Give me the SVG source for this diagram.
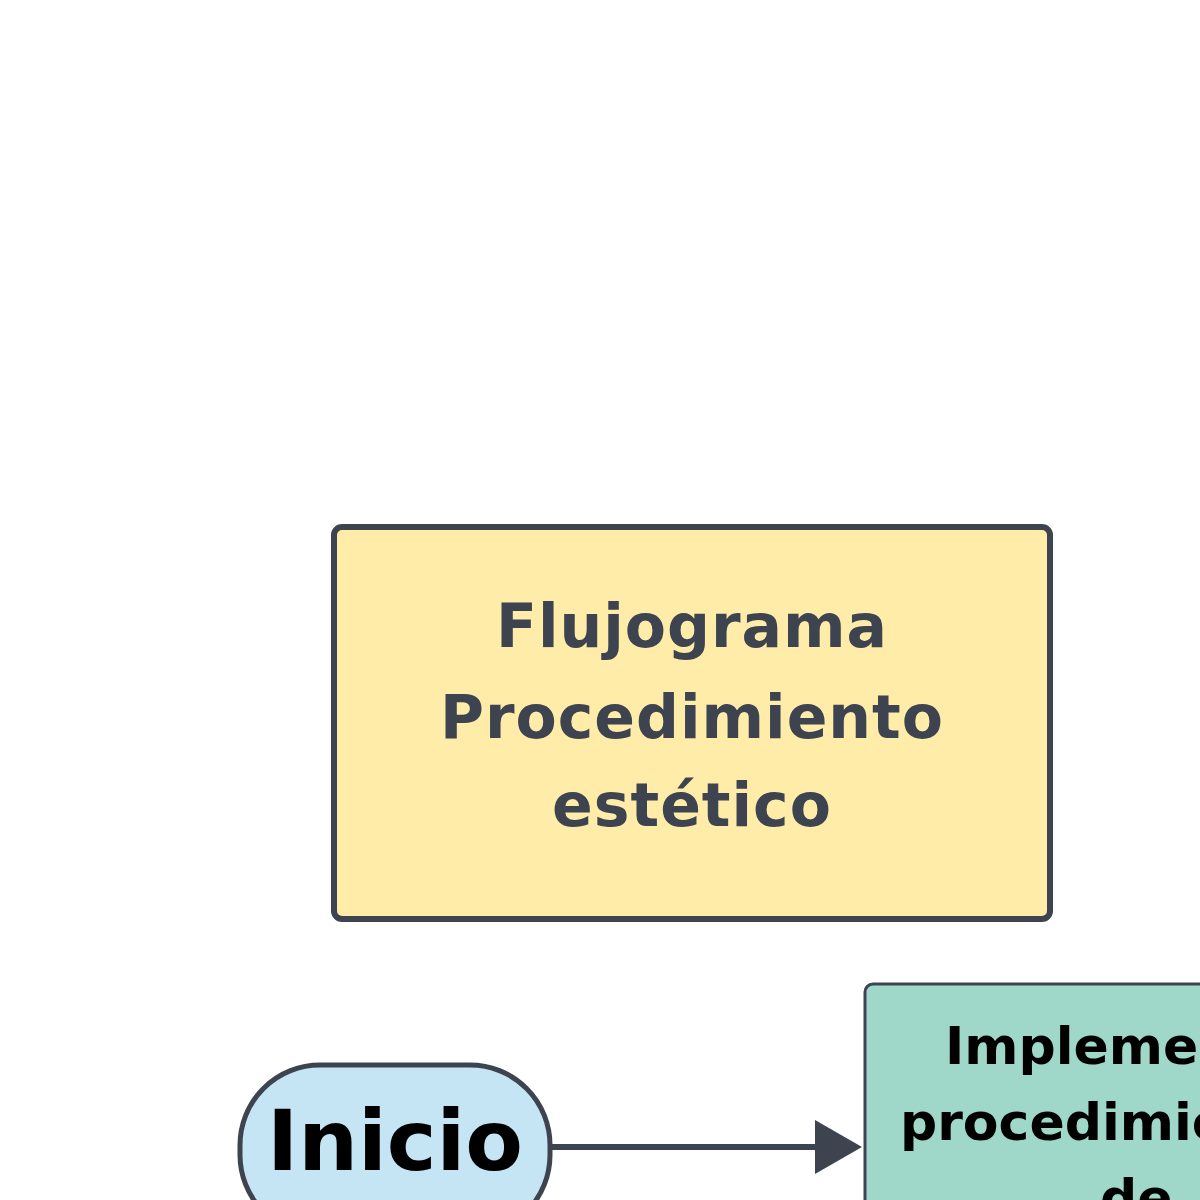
<svg xmlns="http://www.w3.org/2000/svg" width="1200" height="1200" viewBox="0 0 1200 1200">
<style>
.t{font-family:"DejaVu Sans","Liberation Sans",Arial,sans-serif;font-weight:bold;text-anchor:middle}
.s{font-family:"DejaVu Sans","Liberation Sans",Arial,sans-serif;font-weight:bold}
</style>
<rect width="1200" height="1200" fill="#ffffff"/>
<g id="title">
<rect x="334" y="527" width="716" height="392" rx="8" fill="#ffeca8" stroke="#3d4450" stroke-width="6"/>
<text class="t" x="692" y="647" font-size="60" fill="#3d4450" letter-spacing="1">Flujograma</text>
<text class="t" x="692" y="738" font-size="60" fill="#3d4450" letter-spacing="1">Procedimiento</text>
<text class="t" x="692" y="826" font-size="60" fill="#3d4450" letter-spacing="1">estético</text>
</g>
<g id="connectors">
<line x1="552" y1="1147" x2="815" y2="1147" stroke="#3d4450" stroke-width="6"/>
<path d="M815,1120 L862,1147 L815,1174 Z" fill="#3d4450"/>
</g>
<g id="inicio">
<rect x="240" y="1065" width="310" height="170" rx="80" fill="#c5e5f5" stroke="#3d4450" stroke-width="5"/>
<text class="t" x="395" y="1170" font-size="84" fill="#000000">Inicio</text>
</g>
<g id="implementar">
<rect x="865" y="984" width="560" height="300" rx="8" fill="#9fd8c9" stroke="#3d4450" stroke-width="3"/>
<text class="s" x="945" y="1064" font-size="52" fill="#000000">Implementar</text>
<text class="s" x="900" y="1140" font-size="52" fill="#000000">procedimiento</text>
<text class="s" x="1100" y="1216" font-size="52" fill="#000000">de</text>
</g>
</svg>
